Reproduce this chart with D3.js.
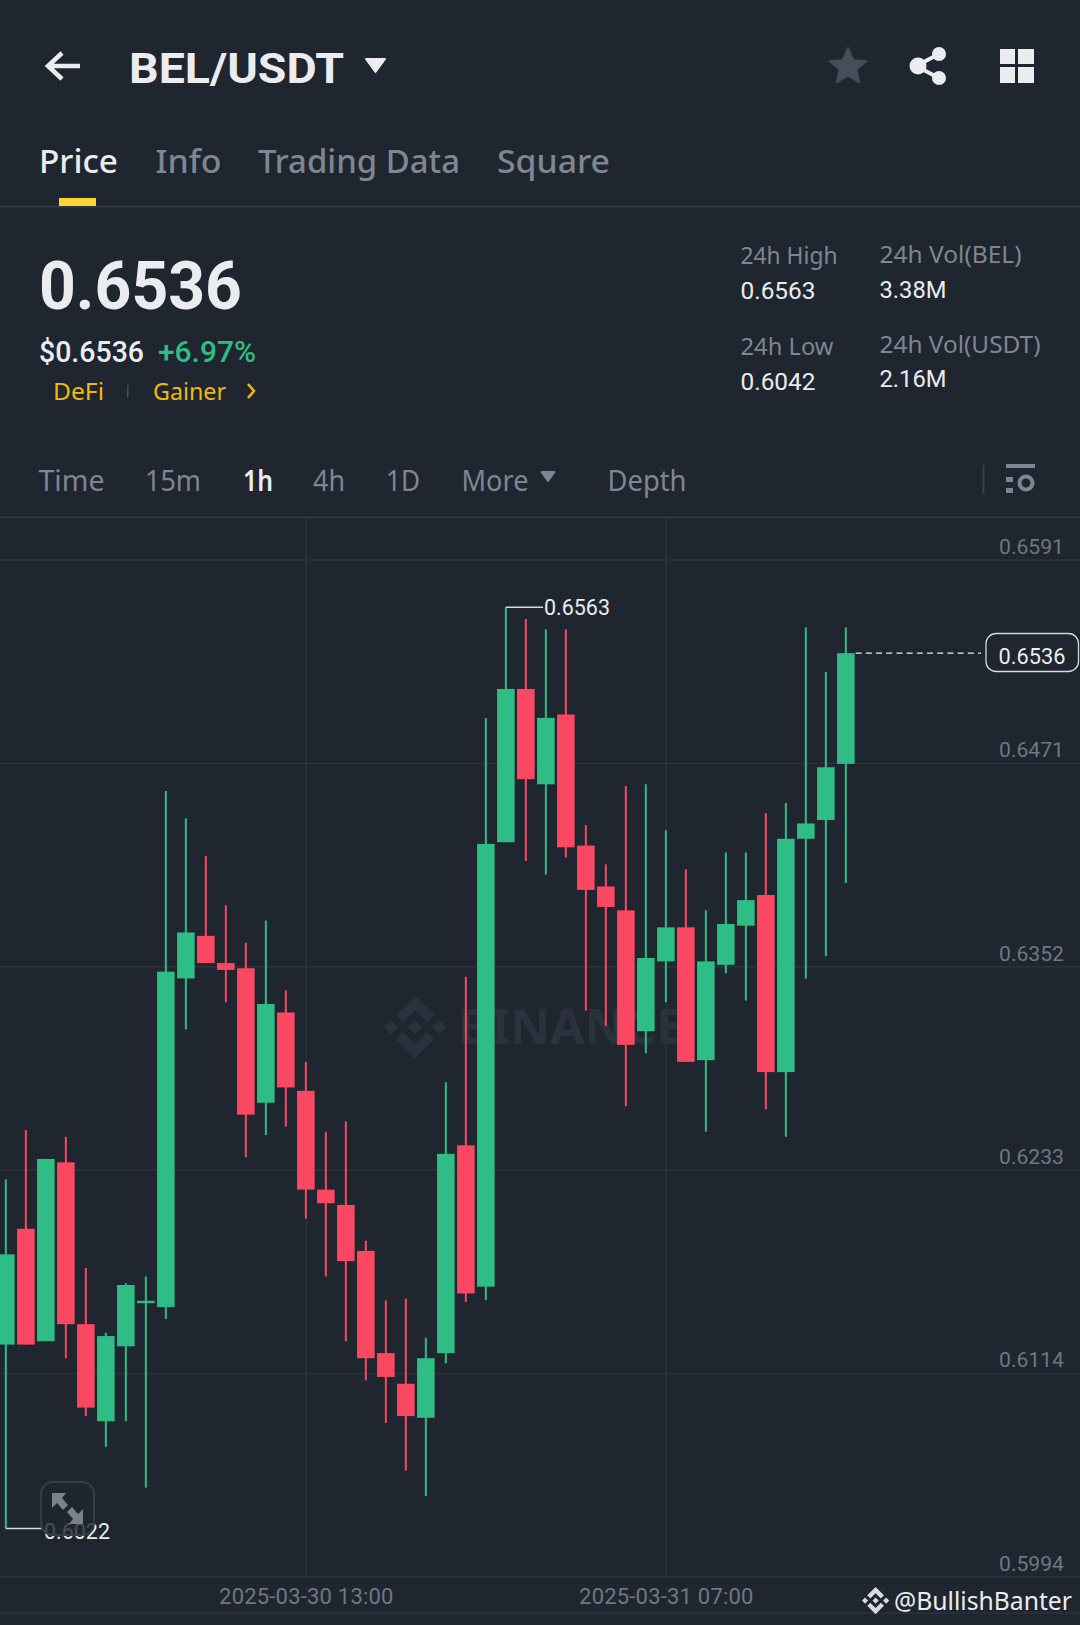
<!DOCTYPE html>
<html>
<head>
<meta charset="utf-8">
<script src="https://cdn.jsdelivr.net/npm/d3@7"></script>
<style>
html, body { margin: 0; padding: 0; background: #1f2630; }
svg { display: block; }
text { font-family: "Noto Sans", sans-serif; }
.num { font-family: Roboto, sans-serif; }
.grid .domain { display: none; }
.grid line { stroke: #2c333e; stroke-width: 1.4; }
.grid text { font-family: Roboto, sans-serif; fill: #6f7784; font-size: 21px; }
</style>
</head>
<body>
<script>
// candles, one per hour, newest last
const opens = [0.6130,0.6198,0.6132,0.6237,0.6142,0.6085,0.6129,0.6155,0.6152,0.6345,0.6370,0.6354,0.6351,0.6272,0.6325,0.6279,0.6221,0.6212,0.6185,0.6125,0.6107,0.6087,0.6125,0.6247,0.6164,0.6425,0.6515,0.6459,0.6500,0.6423,0.6399,0.6385,0.6314,0.6355,0.6375,0.6297,0.6353,0.6376,0.6394,0.6290,0.6427,0.6438,0.6471];
const highs = [0.6227,0.6256,0.6239,0.6252,0.6175,0.6137,0.6166,0.6170,0.6455,0.6439,0.6417,0.6388,0.6366,0.6379,0.6338,0.6296,0.6255,0.6261,0.6191,0.6156,0.6157,0.6134,0.6284,0.6346,0.6498,0.6563,0.6556,0.6550,0.6550,0.6435,0.6412,0.6458,0.6459,0.6432,0.6409,0.6385,0.6419,0.6419,0.6442,0.6448,0.6551,0.6525,0.6551];
const lows = [0.6022,0.6130,0.6132,0.6122,0.6088,0.6070,0.6085,0.6046,0.6145,0.6315,0.6354,0.6331,0.6240,0.6253,0.6258,0.6204,0.6170,0.6132,0.6109,0.6084,0.6056,0.6041,0.6119,0.6155,0.6156,0.6425,0.6414,0.6406,0.6416,0.6326,0.6317,0.6270,0.6301,0.6331,0.6296,0.6255,0.6348,0.6332,0.6268,0.6252,0.6345,0.6358,0.6401];
const closes = [0.6183,0.6130,0.6239,0.6142,0.6093,0.6135,0.6165,0.6155,0.6349,0.6372,0.6354,0.6350,0.6265,0.6330,0.6281,0.6221,0.6213,0.6179,0.6122,0.6111,0.6088,0.6122,0.6242,0.6160,0.6424,0.6515,0.6462,0.6498,0.6422,0.6397,0.6387,0.6306,0.6357,0.6375,0.6296,0.6355,0.6377,0.6391,0.6290,0.6427,0.6436,0.6469,0.6536];

// the labels are rounded, the grid itself is evenly spaced
const priceTicks = [0.65910,0.64716,0.63522,0.62328,0.61134,0.59940];
const priceLabels = ['0.6591','0.6471','0.6352','0.6233','0.6114','0.5994'];
const timeTicks = [15,33];
const timeLabels = ['2025-03-30 13:00','2025-03-31 07:00'];
const highPrice = 0.6563;
const lowPrice = 0.6022;
const lastPrice = 0.6536;

const tabs = ['Price','Info','Trading Data','Square'];
const intervals = ['Time','15m','1h','4h','1D','More','Depth'];

const width = 1080, height = 1625;
const bg = '#1f2630', up = '#2ebd85', down = '#fa4762';
const white = '#eaecef', grey = '#7e8693';

const svg = d3.select('body').append('svg')
    .attr('width', width).attr('height', height)
    .attr('viewBox', '0 0 ' + width + ' ' + height);
svg.append('rect').attr('width', width).attr('height', height).attr('fill', bg);

// text with a fixed left edge and width
function label(g, str, x, y, size, color, w, opts) {
    opts = opts || {};
    const t = g.append('text').text(str).attr('x', x).attr('y', y)
        .attr('font-size', size).attr('fill', color)
        .attr('font-weight', opts.weight || 400);
    if (opts.cls) t.attr('class', opts.cls);
    if (w) t.attr('textLength', w).attr('lengthAdjust', 'spacingAndGlyphs');
    return t;
}

const header = svg.append('g');
// back arrow
header.append('path').attr('d', 'M80 66H50M62 53L48 66L62 79')
    .attr('fill', 'none').attr('stroke', white).attr('stroke-width', 4.5);
label(header, 'BEL/USDT', 129, 83, 42, white, 215, { weight: 700, cls: 'num' });
const caret = (x, y, w, h, c) => header.append('path')
    .attr('d', `M${x} ${y}h${w}l${-w / 2} ${h}z`).attr('fill', c)
    .attr('stroke', c).attr('stroke-width', 2).attr('stroke-linejoin', 'round');
caret(366, 59, 19, 13, white);
// star
const star = d3.range(10).map((i) => {
    const r = i % 2 ? 8.5 : 19, a = i * Math.PI / 5;
    return [848 + r * Math.sin(a), 67 - r * Math.cos(a)];
});
header.append('path').attr('d', d3.line()(star) + 'Z').attr('fill', '#474e5a')
    .attr('stroke', '#474e5a').attr('stroke-width', 2).attr('stroke-linejoin', 'round');
// share
header.append('path').attr('d', 'M939 54L916 66L939 78').attr('fill', 'none').attr('stroke', white).attr('stroke-width', 4);
[[939, 54, 7], [918, 66, 8.5], [939, 78, 7]].forEach((c) => {
    header.append('circle').attr('cx', c[0]).attr('cy', c[1]).attr('r', c[2]).attr('fill', white);
});
// grid icon
[[1000, 49, 15, 15], [1018, 49, 16, 15], [1000, 67, 15, 16], [1018, 67, 16, 16]].forEach((r) => {
    header.append('rect').attr('x', r[0]).attr('y', r[1]).attr('width', r[2]).attr('height', r[3]).attr('fill', white);
});

// tabs
const tabX = [39, 155.5, 258, 497];
const tabW = [79, 66, 202, 113];
tabs.forEach((d, i) => {
    label(header, d, tabX[i], 173, 32, i === 0 ? white : grey, tabW[i], { weight: 500 });
});
header.append('rect').attr('x', 59).attr('y', 198).attr('width', 37).attr('height', 8).attr('fill', '#fcd535');
header.append('rect').attr('x', 0).attr('y', 206).attr('width', width).attr('height', 1.5).attr('fill', '#343b47');

// price block
label(header, '0.6536', 39, 309, 66, white, 203, { weight: 700, cls: 'num' });
label(header, '$0.6536', 39, 362, 29, white, 105, { weight: 500, cls: 'num' });
label(header, '+6.97%', 158, 362, 29, up, 98, { weight: 500, cls: 'num' });
label(header, 'DeFi', 53, 400, 24, '#f0b90b', 51);
header.append('rect').attr('x', 127).attr('y', 385).attr('width', 1.5).attr('height', 12).attr('fill', '#474e5a');
label(header, 'Gainer', 153, 400, 24, '#f0b90b', 73);
header.append('path').attr('d', 'M248 384L254 391L248 398').attr('fill', 'none')
    .attr('stroke', '#f0b90b').attr('stroke-width', 2.6);

// 24h stats
label(header, '24h High', 740.5, 264, 24, grey, 97);
label(header, '0.6563', 740.5, 299, 24.5, white, 75, { cls: 'num' });
label(header, '24h Vol(BEL)', 879.5, 263, 24, grey, 142);
label(header, '3.38M', 879.5, 298, 24.5, white, 67, { cls: 'num' });
label(header, '24h Low', 740.5, 355, 24, grey, 93);
label(header, '0.6042', 740.5, 389.5, 24.5, white, 75, { cls: 'num' });
label(header, '24h Vol(USDT)', 879.5, 353, 24, grey, 161);
label(header, '2.16M', 879.5, 387, 24.5, white, 67, { cls: 'num' });

// interval row
const intX = [38.5, 145, 243, 313, 386, 461.5, 607.5];
const intW = [66, 56, 30, 32, 34, 67, 79];
intervals.forEach((d, i) => {
    label(header, d, intX[i], 491, 29, d === '1h' ? white : grey, intW[i], { weight: d === '1h' ? 600 : 400 });
});
caret(541.5, 472, 13, 9, grey);
header.append('rect').attr('x', 982.5).attr('y', 465).attr('width', 2).attr('height', 29).attr('fill', '#3a414d');
// chart settings icon
header.append('rect').attr('x', 1006).attr('y', 464).attr('width', 29).attr('height', 4).attr('fill', grey);
header.append('rect').attr('x', 1006).attr('y', 477).attr('width', 7).attr('height', 5).attr('fill', grey);
header.append('rect').attr('x', 1006).attr('y', 488).attr('width', 7).attr('height', 5).attr('fill', grey);
header.append('circle').attr('cx', 1026).attr('cy', 483).attr('r', 6.5).attr('fill', 'none').attr('stroke', grey).attr('stroke-width', 4);
header.append('rect').attr('x', 0).attr('y', 516.5).attr('width', width).attr('height', 1.5).attr('fill', '#343b47');

// scales
const x = d3.scaleLinear().domain([0, 42]).range([5.85, 845.85]);
const y = d3.scaleLinear().domain([0.6591, 0.5994]).range([559.5, 1576.2]);
const candleW = 17.6;

// watermark under the grid
const logoPath = 'M38.73 53.2l24.59-24.58 24.6 24.6 14.3-14.31L63.32 0 24.43 38.9l14.3 14.3zM0 63.31l14.3-14.3 14.31 14.3-14.31 14.3zM38.73 73.41l24.59 24.59 24.6-24.6 14.31 14.29-38.9 38.91-38.91-38.88-.02-.02zM98.01 63.31l14.3-14.3 14.3 14.3-14.3 14.3zM77.83 63.3L63.32 48.78 52.59 59.51l-1.24 1.23-2.54 2.54 14.51 14.5 14.51-14.47z';
const wm = svg.append('g');
wm.append('path').attr('d', logoPath).attr('fill', '#2b323d')
    .attr('transform', 'translate(384,996) scale(0.49)');
label(wm, 'BINANCE', 458, 1044, 48, '#2b323d', 226, { weight: 700 });

// grid + axis labels
const gridY = svg.append('g').attr('class', 'grid')
    .call(d3.axisRight(y).tickValues(priceTicks).tickSize(width).tickFormat((d, i) => priceLabels[i]));
gridY.selectAll('text').attr('x', 1064).attr('dy', -6).attr('text-anchor', 'end')
    .attr('textLength', 65).attr('lengthAdjust', 'spacingAndGlyphs');

const gridX = svg.append('g').attr('class', 'grid')
    .attr('transform', 'translate(0,' + y(0.5994) + ')')
    .call(d3.axisBottom(x).tickValues(timeTicks).tickSize(517 - y(0.5994))
        .tickFormat((d, i) => timeLabels[i]));
gridX.selectAll('text').attr('y', 28).attr('dy', 0).style('font-size', '22px').style('letter-spacing', '0.2px');
svg.append('rect').attr('x', 0).attr('y', 1612.5).attr('width', width).attr('height', 1.4).attr('fill', '#2c333e');

// candles
const candles = opens.map((o, i) => ({ i, o, h: highs[i], l: lows[i], c: closes[i] }));
const color = (d) => (d.c >= d.o ? up : down);
const marks = svg.append('g').selectAll('g').data(candles).join('g');
marks.append('line')
    .attr('x1', (d) => x(d.i)).attr('x2', (d) => x(d.i))
    .attr('y1', (d) => y(d.h)).attr('y2', (d) => y(d.l))
    .attr('stroke', color).attr('stroke-width', 2);
marks.append('rect')
    .attr('x', (d) => x(d.i) - candleW / 2).attr('width', candleW)
    .attr('y', (d) => y(Math.max(d.o, d.c)) - (d.o === d.c ? 1.2 : 0))
    .attr('height', (d) => Math.max(Math.abs(y(d.o) - y(d.c)), 2.4))
    .attr('fill', color);

// high / low callouts
const notes = svg.append('g');
notes.append('line').attr('x1', x(25)).attr('x2', 543).attr('y1', y(highPrice)).attr('y2', y(highPrice))
    .attr('stroke', '#d5d8dc').attr('stroke-width', 1.4);
label(notes, '0.6563', 544, 615, 22, white, 66, { cls: 'num' });
notes.append('line').attr('x1', x(0)).attr('x2', 42).attr('y1', y(lowPrice)).attr('y2', y(lowPrice))
    .attr('stroke', '#d5d8dc').attr('stroke-width', 1.4);
label(notes, '0.6022', 44, 1539, 22, white, 66, { cls: 'num' });

// last price tag
notes.append('line').attr('x1', x(42) + candleW / 2 + 1).attr('x2', 981)
    .attr('y1', y(lastPrice)).attr('y2', y(lastPrice))
    .attr('stroke', white).attr('stroke-width', 1.4).attr('stroke-dasharray', '6 4.2');
notes.append('rect').attr('x', 986).attr('y', 633.5).attr('width', 92.5).attr('height', 38).attr('rx', 10)
    .attr('fill', bg).attr('stroke', '#d5d8dc').attr('stroke-width', 1.3);
label(notes, '0.6536', 998.5, 664, 22.5, white, 67, { cls: 'num' });

// expand button sits above the low label
const exp = svg.append('g');
exp.append('rect').attr('x', 41).attr('y', 1482).attr('width', 53).attr('height', 53).attr('rx', 12)
    .attr('fill', bg).attr('fill-opacity', 0.8).attr('stroke', '#363d49').attr('stroke-width', 2);
exp.append('path').attr('d', 'M52 1493H66L62 1498L68 1505L63 1510L57 1503L52 1508Z').attr('fill', '#7c818b');
exp.append('path').attr('d', 'M83 1524H69L73 1519L67 1512L72 1507L78 1514L83 1509Z').attr('fill', '#7c818b');

// user tag
const tag = svg.append('g');
tag.append('path').attr('d', logoPath).attr('fill', '#d8dadd')
    .attr('transform', 'translate(862,1587) scale(0.215)');
label(tag, '@BullishBanter', 894, 1610, 26, white, 178);
</script>
</body>
</html>
